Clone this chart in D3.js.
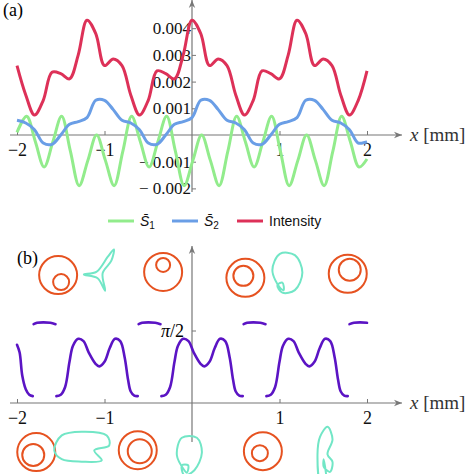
<!DOCTYPE html>
<html><head><meta charset="utf-8">
<script src="https://cdn.jsdelivr.net/npm/d3@7"></script>
<style>body{margin:0;background:#fff}</style>
</head><body>
<svg id="c" width="474" height="474"></svg>
<script>
// (a) x grid, step 0.1 from -2 to 2
const xsA = d3.range(41).map(i => -2 + i * 0.1);
const intensity = [2.6,1.5,0.75,1.3,2.35,2.3,2.1,3.0,4.3,3.8,2.6,2.85,
                   2.6,1.5,0.75,1.3,2.4,2.3,2.1,3.0,4.3,3.8,2.6,2.85,
                   2.6,1.5,0.75,1.3,2.4,2.3,2.1,3.0,4.3,3.8,2.6,2.85,
                   2.6,1.5,0.75,1.3,2.4];
const s2 = [0.55,0.45,0.2,-0.3,-0.35,0.0,0.4,0.5,0.65,1.3,1.3,0.95,
            0.55,0.45,0.2,-0.3,-0.35,0.0,0.4,0.5,0.65,1.3,1.3,0.95,
            0.55,0.45,0.2,-0.3,-0.35,0.0,0.4,0.5,0.65,1.3,1.3,0.95,
            0.55,0.45,0.2,-0.3,-0.25];
// green S1 sampled on shifted grid (extremes)
const xsS1 = [-2].concat(d3.range(39).map(i => -1.89 + i * 0.1)).concat([2]);
const s1 = [0.1,
  0.7,-0.25,-1.2,-0.25,0.7,-0.6,-1.9,-0.95,0.0,-0.95,-1.9,-0.6,
  0.7,-0.25,-1.2,-0.25,0.7,-0.6,-1.9,-0.95,0.0,-0.95,-1.9,-0.6,
  0.7,-0.25,-1.2,-0.25,0.7,-0.6,-1.9,-0.95,0.0,-0.95,-1.9,-0.6,
  0.7,-0.25,-1.2,-0.9];
const topTicks = [0.004,0.003,0.002,0.001,-0.001,-0.002];
const xTicks = [-2,-1,1,2];

// (b) phase segments
const phaseSegs = [
  {x:[-2,-1.97,-1.94,-1.9,-1.86,-1.82], y:[1.27,1.1,0.6,0.3,0.18,0.15]},
  {x:[-1.81,-1.77,-1.7,-1.62,-1.56], y:[1.72,1.75,1.76,1.75,1.72]},
  {x:[-1.55,-1.5,-1.45,-1.4,-1.36,-1.3,-1.24,-1.18,-1.1,-1.06,-1.0,-0.94,-0.88,-0.82,-0.77,-0.73,-0.7,-0.66,-0.62],
   y:[0.15,0.18,0.35,0.9,1.25,1.4,1.35,1.1,0.85,0.8,0.9,1.2,1.4,1.35,1.0,0.5,0.25,0.16,0.15]},
  {x:[-0.61,-0.57,-0.5,-0.42,-0.36], y:[1.72,1.75,1.76,1.75,1.72]},
  {x:[-0.35,-0.3,-0.25,-0.2,-0.16,-0.1,-0.04,0.02,0.1,0.14,0.2,0.26,0.32,0.38,0.43,0.47,0.5,0.54,0.58],
   y:[0.15,0.18,0.35,0.9,1.25,1.4,1.35,1.1,0.85,0.8,0.9,1.2,1.4,1.35,1.0,0.5,0.25,0.16,0.15]},
  {x:[0.59,0.63,0.7,0.78,0.84], y:[1.72,1.75,1.76,1.75,1.72]},
  {x:[0.85,0.9,0.95,1.0,1.04,1.1,1.16,1.22,1.3,1.34,1.4,1.46,1.52,1.58,1.63,1.67,1.7,1.74,1.78],
   y:[0.15,0.18,0.35,0.9,1.25,1.4,1.35,1.1,0.85,0.8,0.9,1.2,1.4,1.35,1.0,0.5,0.25,0.16,0.15]},
  {x:[1.8,1.85,1.92,2.0], y:[1.72,1.75,1.76,1.75]}
];
// polarization glyphs: orange double circles (inner dx, dy, r in px)
const rings = [
  {x:-1.53, y:2.79, inner:[3,7,8]}, {x:-0.33, y:2.86, inner:[0,-7,7]},
  {x:0.61, y:2.73, inner:[-2,-2,10]}, {x:1.78, y:2.82, inner:[2,-4,11]},
  {x:-1.78, y:-1.07, inner:[-3,3,11]}, {x:-0.62, y:-1.03, inner:[2,1,12]},
  {x:0.81, y:-1.05, inner:[-3,2,8]}
];
const loops = [
  {x:-1.05, y:2.75, pts:[[-13,-2],[-3,-4],[6,-16],[11,-22],[9,-13],[2,-3],[4,11],[-2,1]]},
  {x:1.09, y:2.79, pts:[[-6,10],[-12,-4],[-6,-17],[6,-16],[12,-2],[6,12],[-4,14],[-8,8],[-4,6],[-3,12]]},
  {x:-1.26, y:-0.98, pts:[[-22,2],[-16,-10],[0,-13],[20,-10],[22,-2],[10,2],[16,10],[0,11],[-16,9]]},
  {x:-0.03, y:-1.14, pts:[[-4,12],[-10,0],[-6,-14],[6,-14],[10,-2],[4,12],[-4,16],[-6,8],[-1,8],[-2,14]]},
  {x:1.52, y:-1.12, pts:[[-3,26],[-6,0],[-4,-14],[2,-22],[6,-12],[2,0],[6,6],[4,14],[-1,10],[-1,4],[1,28]]}
];

const svg = d3.select('#c');
const x = d3.scaleLinear().domain([-2,2]).range([17,367]);
const yA = d3.scaleLinear().domain([0,0.004]).range([135,28.2]);
const yB = d3.scaleLinear().domain([0,Math.PI/2]).range([403,331]);
const serif = 'Liberation Serif, Times New Roman, serif';
const axCol = '#777';

svg.append('defs').append('marker').attr('id','ar').attr('viewBox','0 0 10 10')
  .attr('refX',10).attr('refY',5).attr('markerWidth',8).attr('markerHeight',8)
  .attr('orient','auto').attr('markerUnits','userSpaceOnUse')
  .append('path').attr('d','M0,1L10,5L0,9L3,5Z').attr('fill',axCol);

function axes(y, y0, yTop, yBottom) {
  svg.append('line').attr('x1',10).attr('x2',402).attr('y1',y0).attr('y2',y0)
    .attr('stroke',axCol).attr('stroke-width',1.2).attr('marker-end','url(#ar)');
  svg.append('line').attr('x1',x(0)).attr('x2',x(0)).attr('y1',yBottom).attr('y2',yTop)
    .attr('stroke',axCol).attr('stroke-width',1.2).attr('marker-end','url(#ar)');
  const g = svg.append('g').attr('transform',`translate(0,${y0})`)
    .call(d3.axisBottom(x).tickValues(xTicks).tickSize(-4).tickPadding(8).tickFormat(d => d < 0 ? '\u2212' + (-d) : d));
  g.select('.domain').remove();
  g.selectAll('line').attr('stroke',axCol);
  g.selectAll('text').attr('font-family',serif).attr('font-size',18).attr('fill','#111');
  svg.append('text').attr('x',410).attr('y',y0+6).attr('font-family',serif).attr('font-size',19)
    .attr('fill','#333').html('<tspan font-style="italic">x</tspan> [mm]');
}

// ---- (a)
axes(yA, 135, 0, 192);
const gy = svg.append('g').attr('transform',`translate(${x(0)},0)`)
  .call(d3.axisLeft(yA).tickValues(topTicks).tickSize(-4).tickPadding(1)
    .tickFormat(d => d < 0 ? '\u2212 ' + d3.format('.3f')(-d) : d3.format('.3f')(d)));
gy.select('.domain').remove();
gy.selectAll('line').attr('stroke',axCol);
gy.selectAll('text').attr('font-family',serif).attr('font-size',17).attr('fill','#111');
svg.append('text').attr('x',3).attr('y',16).attr('font-family',serif).attr('font-size',18).text('(a)');

const lineA = d3.line().curve(d3.curveCatmullRom.alpha(0.5));
const series = [
  {xs:xsS1, v:s1, c:'#92ec8c'},
  {xs:xsA, v:s2, c:'#6a9ee6'},
  {xs:xsA, v:intensity, c:'#dd3158'}
];
series.forEach(s => {
  svg.append('path').attr('fill','none').attr('stroke',s.c).attr('stroke-width',3)
    .attr('d', lineA(s.v.map((v,i) => [x(s.xs[i]), yA(v/1000)])));
});

// legend
const leg = [{c:'#92ec8c', t:'1', x:108},{c:'#6a9ee6', t:'2', x:172},{c:'#dd3158', t:null, x:237}];
leg.forEach(l => {
  svg.append('line').attr('x1',l.x).attr('x2',l.x+26).attr('y1',221).attr('y2',221)
    .attr('stroke',l.c).attr('stroke-width',3);
  const t = svg.append('text').attr('x',l.x+32).attr('y',226).attr('font-family','Liberation Sans, Arial, sans-serif')
    .attr('font-size',14).attr('fill','#111');
  if (l.t) {
    t.append('tspan').attr('font-style','italic').text('S\u0304');
    t.append('tspan').attr('font-size',10).attr('dy',3).text(l.t);
  } else t.text('Intensity');
});

// ---- (b)
axes(yB, 403, 246, 442);
svg.append('text').attr('x',x(0)-31).attr('y',yB(Math.PI/2)+6).attr('font-family',serif).attr('font-size',18)
  .html('<tspan font-style="italic">\u03c0</tspan>/2');
svg.append('line').attr('x1',x(0)).attr('x2',x(0)+4).attr('y1',yB(Math.PI/2)).attr('y2',yB(Math.PI/2)).attr('stroke',axCol);
svg.append('text').attr('x',17).attr('y',264).attr('font-family',serif).attr('font-size',18).text('(b)');

const lineB = d3.line().curve(d3.curveCatmullRom.alpha(0.5));
phaseSegs.forEach(s => {
  svg.append('path').attr('fill','none').attr('stroke','#5b14c4').attr('stroke-width',2.6)
    .attr('stroke-linecap','round')
    .attr('d', lineB(s.x.map((v,i) => [x(v), yB(s.y[i])])));
});

rings.forEach(r => {
  const cx = x(r.x), cy = yB(r.y);
  svg.append('circle').attr('cx',cx).attr('cy',cy).attr('r',19).attr('fill','none').attr('stroke','#e65220').attr('stroke-width',2);
  svg.append('circle').attr('cx',cx+r.inner[0]).attr('cy',cy+r.inner[1]).attr('r',r.inner[2])
    .attr('fill','none').attr('stroke','#e65220').attr('stroke-width',2);
});
const loopLine = d3.line().curve(d3.curveCatmullRomClosed);
loops.forEach(l => {
  const cx = x(l.x), cy = yB(l.y);
  svg.append('path').attr('fill','none').attr('stroke','#72e6c6').attr('stroke-width',2)
    .attr('d', loopLine(l.pts.map(p => [cx+p[0]*1.25, cy+p[1]*1.25])));
});
</script>
</body></html>
